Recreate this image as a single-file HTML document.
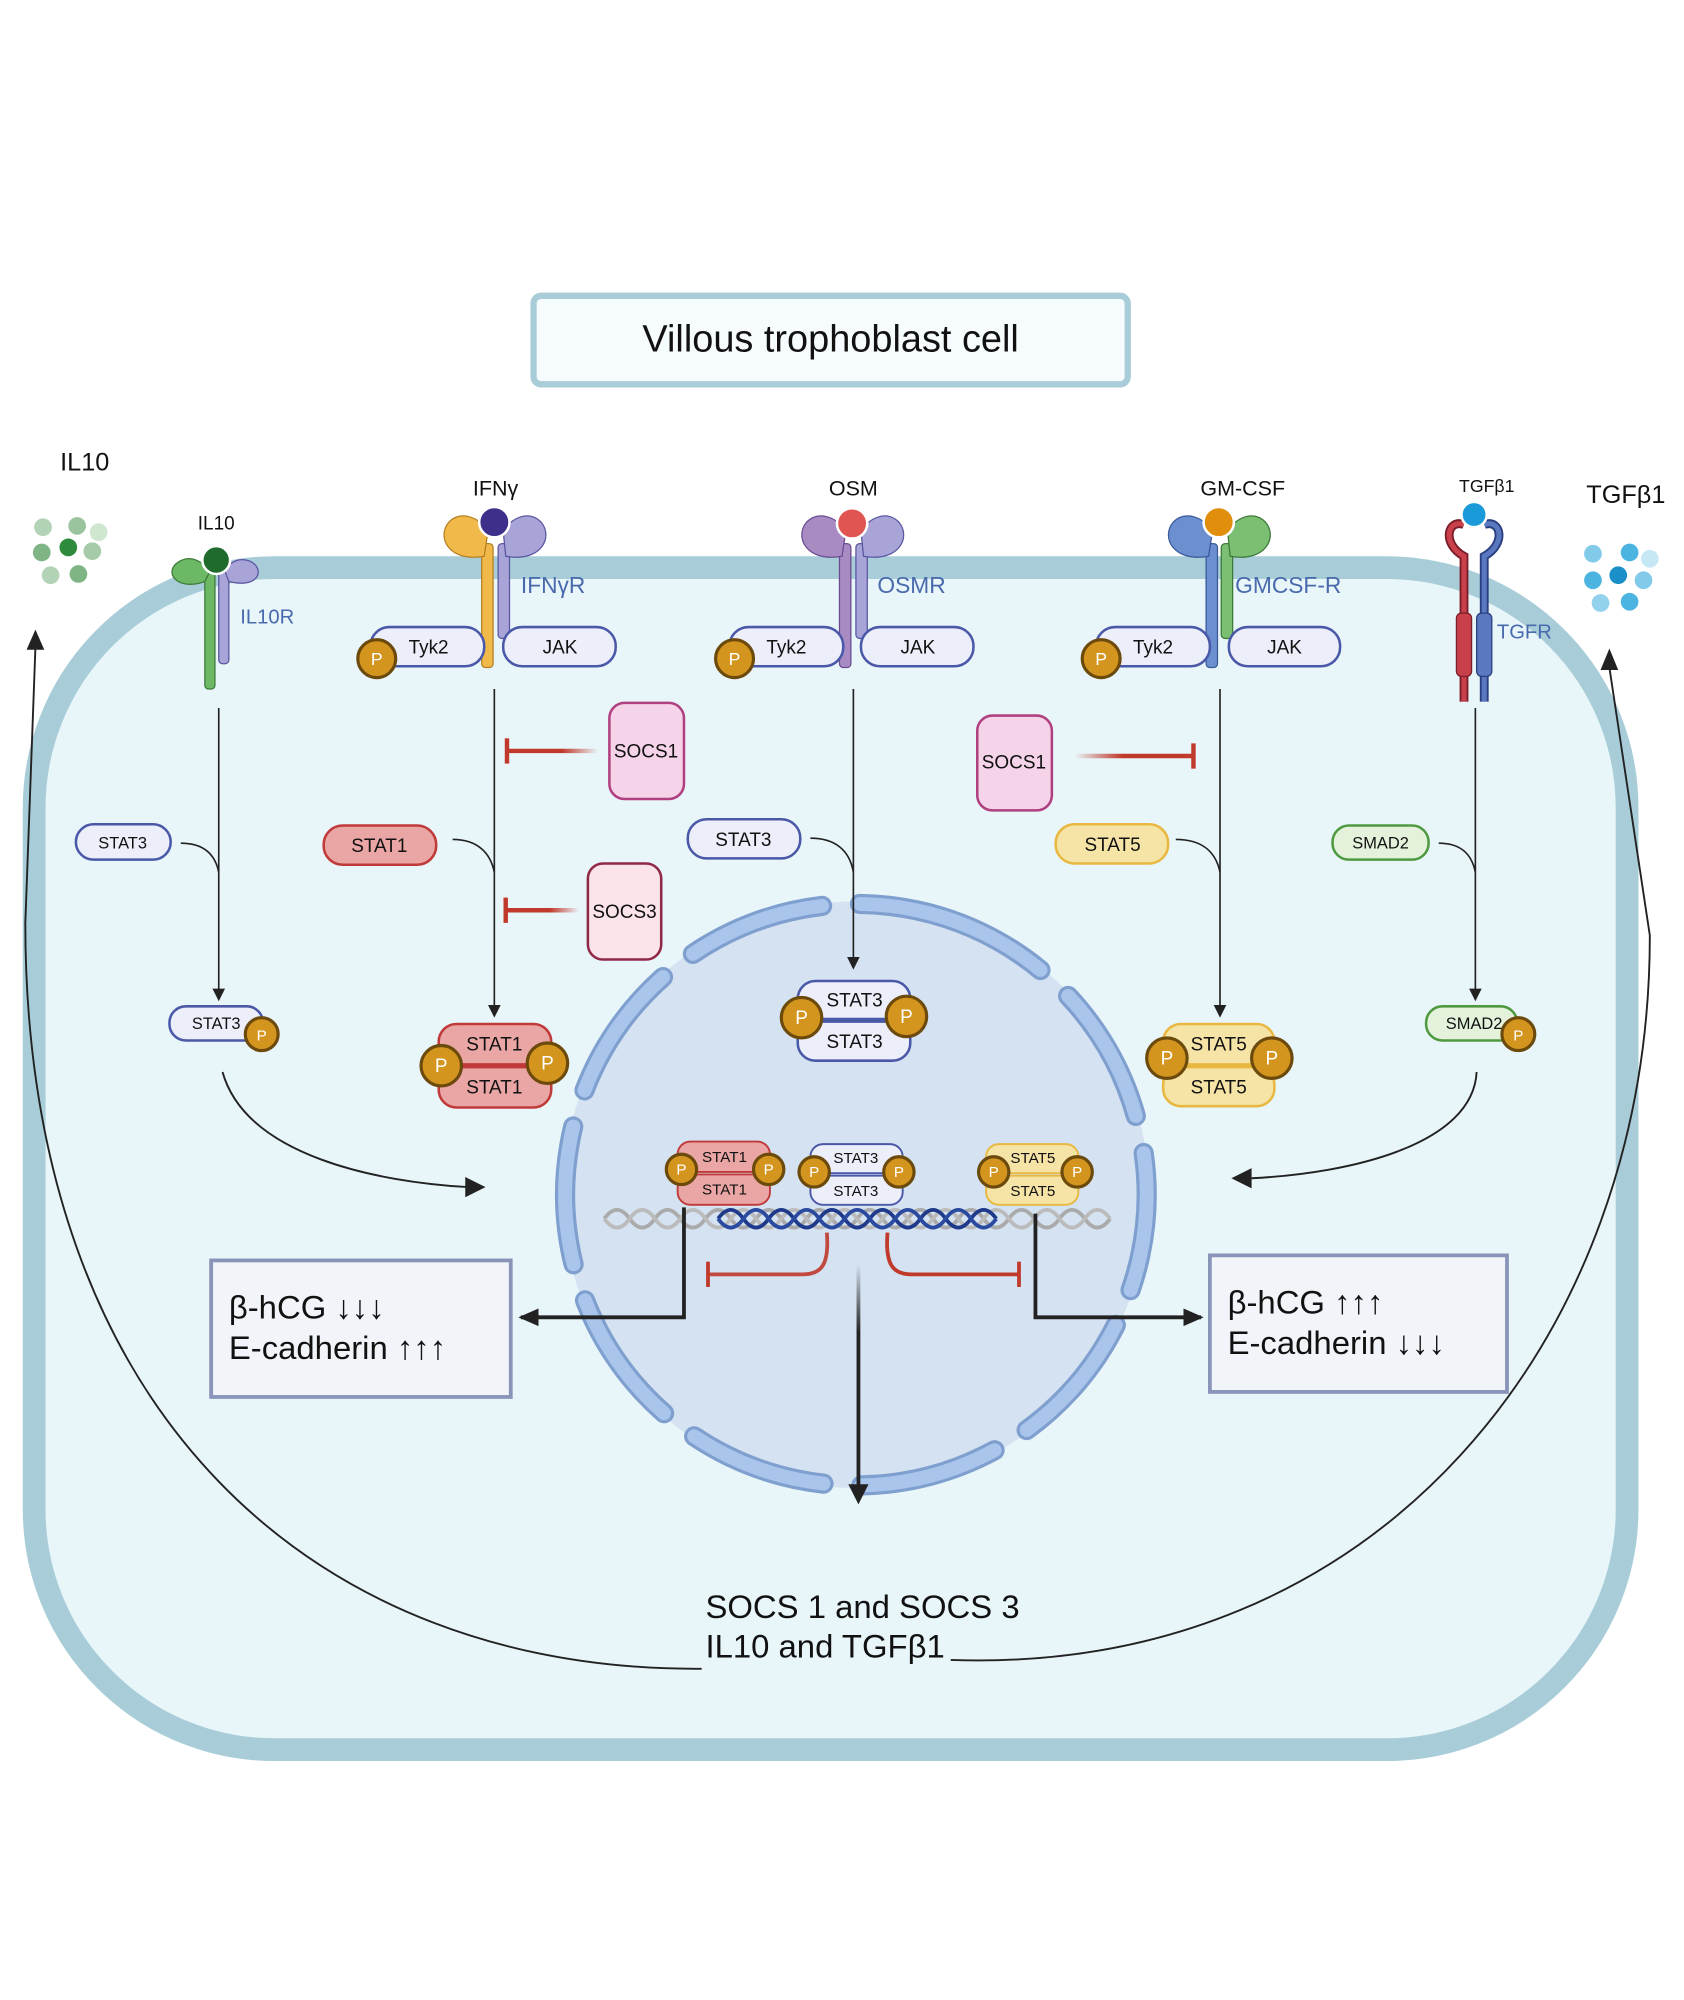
<!DOCTYPE html>
<html><head><meta charset="utf-8"><style>html,body{margin:0;padding:0;background:#fff}svg{display:block}text{font-family:"Liberation Sans",sans-serif}</style></head><body>
<svg width="1684" height="2000" viewBox="0 0 1332 1582" xmlns="http://www.w3.org/2000/svg">
<defs>
<marker id="ah" markerWidth="10" markerHeight="10" refX="8" refY="5" orient="auto" markerUnits="userSpaceOnUse"><path d="M0,0 L10,5 L0,10 z" fill="#222"/></marker>
<marker id="ahs" markerWidth="16" markerHeight="14" refX="14" refY="7" orient="auto" markerUnits="userSpaceOnUse"><path d="M0,0 L16,7 L0,14 z" fill="#222"/></marker>
<linearGradient id="g1" gradientUnits="userSpaceOnUse" x1="401" y1="0" x2="473" y2="0"><stop offset="0" stop-color="#c0392b"/><stop offset="0.6" stop-color="#c0392b"/><stop offset="1" stop-color="#c0392b" stop-opacity="0"/></linearGradient>
<linearGradient id="g2" gradientUnits="userSpaceOnUse" x1="400" y1="0" x2="458" y2="0"><stop offset="0" stop-color="#c0392b"/><stop offset="0.6" stop-color="#c0392b"/><stop offset="1" stop-color="#c0392b" stop-opacity="0"/></linearGradient>
<linearGradient id="g3" gradientUnits="userSpaceOnUse" x1="944" y1="0" x2="850" y2="0"><stop offset="0" stop-color="#c0392b"/><stop offset="0.6" stop-color="#c0392b"/><stop offset="1" stop-color="#c0392b" stop-opacity="0"/></linearGradient>
<linearGradient id="vg" gradientUnits="userSpaceOnUse" x1="0" y1="1000" x2="0" y2="1180"><stop offset="0" stop-color="#222" stop-opacity="0"/><stop offset="0.3" stop-color="#222"/><stop offset="1" stop-color="#222"/></linearGradient>
</defs>
<!-- title -->
<rect x="422" y="234" width="470" height="70" rx="6" fill="#f6fbfd" stroke="#a8cdd8" stroke-width="5"/>
<text x="657" y="278" font-size="30" text-anchor="middle" fill="#111">Villous trophoblast cell</text>
<!-- cell -->
<rect x="27" y="449" width="1260" height="935" rx="190" fill="#e8f5f9" stroke="#a8cdd8" stroke-width="18"/>
<!-- nucleus -->
<circle cx="677" cy="945" r="232" fill="#d4e2f1"/>
<circle cx="677" cy="945" r="230" fill="none" stroke="#7f9fcf" stroke-width="16" stroke-dasharray="110 30" stroke-linecap="round" transform="rotate(-78 677 945)"/>
<circle cx="677" cy="945" r="230" fill="none" stroke="#a9c5ec" stroke-width="11" stroke-dasharray="110 30" stroke-linecap="round" transform="rotate(-78 677 945)"/>
<!-- ligand dots -->
<g fill="#7fb584"><circle cx="34" cy="417" r="7" opacity=".6"/><circle cx="61" cy="416" r="7" opacity=".8"/><circle cx="78" cy="421" r="7" fill="#cfe6cf"/><circle cx="33" cy="437" r="7"/><circle cx="54" cy="433" r="7" fill="#2e8b3e"/><circle cx="73" cy="436" r="7" opacity=".7"/><circle cx="40" cy="455" r="7" opacity=".6"/><circle cx="62" cy="454" r="7"/></g>
<g fill="#4bb4e0"><circle cx="1260" cy="438" r="7" opacity=".7"/><circle cx="1289" cy="437" r="7"/><circle cx="1305" cy="442" r="7" fill="#c6e8f5"/><circle cx="1260" cy="459" r="7"/><circle cx="1280" cy="455" r="7" fill="#1a8fc8"/><circle cx="1300" cy="459" r="7" opacity=".7"/><circle cx="1266" cy="477" r="7" opacity=".6"/><circle cx="1289" cy="476" r="7"/></g>
<g font-size="20" fill="#111" text-anchor="middle"><text x="67" y="372">IL10</text><text x="1286" y="398">TGFβ1</text></g>
<g font-size="17" fill="#111" text-anchor="middle"><text x="392" y="392">IFNγ</text><text x="675" y="392">OSM</text><text x="983" y="392">GM-CSF</text><text x="171" y="419" font-size="15">IL10</text><text x="1176" y="389" font-size="14">TGFβ1</text></g>
<!-- IL10R -->
<rect x="162" y="452" width="8" height="93" rx="3" fill="#6cb865" stroke="#3d7a3a"/>
<rect x="173" y="452" width="8" height="73" rx="3" fill="#a8a4d8" stroke="#5a56a0"/>
<path d="M162,460 C140,468 128,452 142,444 C152,438 162,446 166,452Z" fill="#6cb865" stroke="#3d7a3a"/>
<path d="M181,460 C205,466 210,450 198,444 C188,440 180,446 178,452Z" fill="#a8a4d8" stroke="#5a56a0"/>
<circle cx="171" cy="443" r="11" fill="#1f6b2e" stroke="#fff" stroke-width="2"/>
<text x="190" y="493" font-size="16" fill="#4a6aae">IL10R</text>
<!-- IFNgR -->
<rect x="381" y="430" width="9" height="98" rx="3" fill="#f0b94a" stroke="#b58020"/>
<rect x="394" y="430" width="9" height="75" rx="3" fill="#a8a4d8" stroke="#5a56a0"/>
<path d="M383,440 C355,445 345,425 355,413 C365,403 380,410 386,420Z" fill="#f0b94a" stroke="#b58020"/>
<path d="M400,440 C428,445 438,425 428,413 C418,403 404,410 398,420Z" fill="#a8a4d8" stroke="#5a56a0"/>
<circle cx="391" cy="413" r="12" fill="#3d2f8a" stroke="#fff" stroke-width="2"/>
<text x="412" y="469" font-size="18" fill="#4a6aae">IFNγR</text>
<!-- OSMR -->
<rect x="664" y="430" width="9" height="98" rx="3" fill="#a98bc4" stroke="#6a4c90"/>
<rect x="677" y="430" width="9" height="75" rx="3" fill="#a8a4d8" stroke="#5a56a0"/>
<path d="M666,440 C638,445 628,425 638,413 C648,403 663,410 669,420Z" fill="#a98bc4" stroke="#6a4c90"/>
<path d="M683,440 C711,445 721,425 711,413 C701,403 687,410 681,420Z" fill="#a8a4d8" stroke="#5a56a0"/>
<circle cx="674" cy="414" r="12" fill="#e05552" stroke="#fff" stroke-width="2"/>
<text x="694" y="469" font-size="18" fill="#4a6aae">OSMR</text>
<!-- GMCSF-R -->
<rect x="954" y="430" width="9" height="98" rx="3" fill="#6b8fcf" stroke="#3a5a9a"/>
<rect x="966" y="430" width="9" height="75" rx="3" fill="#7bbf72" stroke="#3d7a3a"/>
<path d="M956,440 C928,445 918,425 928,413 C938,403 953,410 959,420Z" fill="#6b8fcf" stroke="#3a5a9a"/>
<path d="M973,440 C1001,445 1011,425 1001,413 C991,403 977,410 971,420Z" fill="#7bbf72" stroke="#3d7a3a"/>
<circle cx="964" cy="413" r="12" fill="#e08e0b" stroke="#fff" stroke-width="2"/>
<text x="977" y="469" font-size="18" fill="#4a6aae">GMCSF-R</text>
<!-- TGFR -->
<path d="M1158,555 V440 C1140,430 1145,410 1158,415" fill="none" stroke="#7a1f2a" stroke-width="7"/>
<path d="M1158,555 V440 C1140,430 1145,410 1158,415" fill="none" stroke="#c9404a" stroke-width="4"/>
<path d="M1174,555 V440 C1192,430 1187,410 1174,415" fill="none" stroke="#2a3f80" stroke-width="7"/>
<path d="M1174,555 V440 C1192,430 1187,410 1174,415" fill="none" stroke="#5a78c0" stroke-width="4"/>
<rect x="1152" y="485" width="12" height="50" rx="4" fill="#c9404a" stroke="#7a1f2a"/>
<rect x="1168" y="485" width="12" height="50" rx="4" fill="#5a78c0" stroke="#2a3f80"/>
<circle cx="1166" cy="407" r="10" fill="#1a9ad8" stroke="#fff" stroke-width="2"/>
<text x="1184" y="505" font-size="16" fill="#4a6aae">TGFR</text>
<!-- kinases -->
<g font-size="15" fill="#111" text-anchor="middle" stroke-width="2">
<rect x="293" y="496" width="90" height="31" rx="15" fill="#eceef9" stroke="#4a58a8"/><text x="339" y="517">Tyk2</text>
<rect x="398" y="496" width="89" height="31" rx="15" fill="#eceef9" stroke="#4a58a8"/><text x="443" y="517">JAK</text>
<rect x="577" y="496" width="90" height="31" rx="15" fill="#eceef9" stroke="#4a58a8"/><text x="622" y="517">Tyk2</text>
<rect x="681" y="496" width="89" height="31" rx="15" fill="#eceef9" stroke="#4a58a8"/><text x="726" y="517">JAK</text>
<rect x="867" y="496" width="90" height="31" rx="15" fill="#eceef9" stroke="#4a58a8"/><text x="912" y="517">Tyk2</text>
<rect x="972" y="496" width="88" height="31" rx="15" fill="#eceef9" stroke="#4a58a8"/><text x="1016" y="517">JAK</text>
</g>
<!-- vertical arrows -->
<g stroke="#222" stroke-width="1.3" fill="none" marker-end="url(#ah)">
<line x1="173" y1="560" x2="173" y2="790"/><line x1="391" y1="545" x2="391" y2="803"/><line x1="675" y1="545" x2="675" y2="765"/><line x1="965" y1="545" x2="965" y2="803"/><line x1="1167" y1="560" x2="1167" y2="790"/>
</g>
<g stroke="#222" stroke-width="1.3" fill="none">
<path d="M143,667 C160,667 170,675 173,690"/><path d="M358,664 C378,664 388,675 391,690"/><path d="M641,663 C660,663 672,672 675,690"/><path d="M930,664 C952,664 962,675 965,690"/><path d="M1138,667 C1155,667 1164,675 1167,690"/>
</g>
<!-- STAT pills -->
<g font-size="14" fill="#111" text-anchor="middle" stroke-width="2">
<rect x="60" y="652" width="75" height="28" rx="14" fill="#eceef9" stroke="#4a58a8"/><text x="97" y="671" font-size="13">STAT3</text>
<rect x="256" y="653" width="89" height="31" rx="15" fill="#eaa5a5" stroke="#c03a3a"/><text x="300" y="674" font-size="15">STAT1</text>
<rect x="544" y="648" width="89" height="31" rx="15" fill="#eceef9" stroke="#4a58a8"/><text x="588" y="669" font-size="15">STAT3</text>
<rect x="835" y="652" width="89" height="31" rx="15" fill="#f6e3a6" stroke="#e8b840"/><text x="880" y="673" font-size="15">STAT5</text>
<rect x="1054" y="653" width="76" height="27" rx="13" fill="#e4f2dc" stroke="#4f9a40"/><text x="1092" y="671" font-size="13">SMAD2</text>
<rect x="134" y="796" width="74" height="27" rx="13" fill="#eceef9" stroke="#4a58a8"/><text x="171" y="814" font-size="13">STAT3</text>
<rect x="1128" y="796" width="72" height="27" rx="13" fill="#e4f2dc" stroke="#4f9a40"/><text x="1166" y="814" font-size="13">SMAD2</text>
</g>
<!-- P circles -->
<g stroke="#6b4a0c" stroke-width="2.5" fill="#d4951f">
<circle cx="298" cy="521" r="15"/><circle cx="581" cy="521" r="15"/><circle cx="871" cy="521" r="15"/>
<circle cx="207" cy="818" r="13"/><circle cx="1201" cy="818" r="13"/>
</g>
<g font-size="14" fill="#fff" text-anchor="middle"><text x="298" y="526">P</text><text x="581" y="526">P</text><text x="871" y="526">P</text><text x="207" y="823" font-size="12">P</text><text x="1201" y="823" font-size="12">P</text></g>
<!-- SOCS -->
<g font-size="15" fill="#111" text-anchor="middle" stroke-width="2">
<rect x="482" y="556" width="59" height="76" rx="12" fill="#f5d3e8" stroke="#b04080"/><text x="511" y="599">SOCS1</text>
<rect x="465" y="683" width="58" height="76" rx="12" fill="#fbe3ea" stroke="#902848"/><text x="494" y="726">SOCS3</text>
<rect x="773" y="566" width="59" height="75" rx="12" fill="#f5d3e8" stroke="#b04080"/><text x="802" y="608">SOCS1</text>
</g>
<g stroke-width="3.5" fill="none">
<line x1="401" y1="594" x2="473" y2="594" stroke="url(#g1)"/><line x1="401" y1="584" x2="401" y2="604" stroke="#c0392b"/>
<line x1="400" y1="720" x2="458" y2="720" stroke="url(#g2)"/><line x1="400" y1="710" x2="400" y2="730" stroke="#c0392b"/>
<line x1="850" y1="598" x2="944" y2="598" stroke="url(#g3)"/><line x1="944" y1="588" x2="944" y2="608" stroke="#c0392b"/>
</g>
<!-- dimers -->
<g stroke-width="2" font-size="15" fill="#111" text-anchor="middle">
<rect x="347" y="810" width="89" height="32" rx="14" fill="#eaa5a5" stroke="#c03a3a"/><rect x="347" y="844" width="89" height="32" rx="14" fill="#eaa5a5" stroke="#c03a3a"/><line x1="355" y1="843" x2="430" y2="843" stroke="#c03a3a" stroke-width="4"/>
<text x="391" y="831">STAT1</text><text x="391" y="865">STAT1</text>
<rect x="631" y="776" width="89" height="31" rx="14" fill="#eceef9" stroke="#4a58a8"/><rect x="631" y="808" width="89" height="31" rx="14" fill="#eceef9" stroke="#4a58a8"/><line x1="640" y1="807" x2="712" y2="807" stroke="#4a58a8" stroke-width="4"/>
<text x="676" y="796">STAT3</text><text x="676" y="829">STAT3</text>
<rect x="920" y="810" width="88" height="32" rx="14" fill="#f6e3a6" stroke="#e8b840"/><rect x="920" y="844" width="88" height="31" rx="14" fill="#f6e3a6" stroke="#e8b840"/><line x1="928" y1="843" x2="1000" y2="843" stroke="#e8b840" stroke-width="4"/>
<text x="964" y="831">STAT5</text><text x="964" y="865">STAT5</text>
</g>
<g font-size="12" fill="#111" text-anchor="middle" stroke-width="1.5">
<rect x="536" y="903" width="73" height="24" rx="10" fill="#eaa5a5" stroke="#c03a3a"/><rect x="536" y="929" width="73" height="24" rx="10" fill="#eaa5a5" stroke="#c03a3a"/><text x="573" y="919">STAT1</text><text x="573" y="945">STAT1</text>
<rect x="641" y="905" width="73" height="23" rx="10" fill="#eceef9" stroke="#4a58a8"/><rect x="641" y="930" width="73" height="23" rx="10" fill="#eceef9" stroke="#4a58a8"/><text x="677" y="920">STAT3</text><text x="677" y="946">STAT3</text>
<rect x="780" y="905" width="73" height="23" rx="10" fill="#f6e3a6" stroke="#e8b840"/><rect x="780" y="930" width="73" height="23" rx="10" fill="#f6e3a6" stroke="#e8b840"/><text x="817" y="920">STAT5</text><text x="817" y="946">STAT5</text>
</g>
<g stroke="#6b4a0c" stroke-width="2.5" fill="#d4951f">
<circle cx="349" cy="843" r="16"/><circle cx="433" cy="841" r="16"/><circle cx="634" cy="805" r="16"/><circle cx="717" cy="804" r="16"/><circle cx="923" cy="837" r="16"/><circle cx="1006" cy="837" r="16"/>
<circle cx="539" cy="925" r="12"/><circle cx="608" cy="925" r="12"/><circle cx="644" cy="927" r="12"/><circle cx="711" cy="927" r="12"/><circle cx="786" cy="927" r="12"/><circle cx="852" cy="927" r="12"/>
</g>
<g font-size="15" fill="#fff" text-anchor="middle"><text x="349" y="848">P</text><text x="433" y="846">P</text><text x="634" y="810">P</text><text x="717" y="809">P</text><text x="923" y="842">P</text><text x="1006" y="842">P</text>
<g font-size="12"><text x="539" y="929">P</text><text x="608" y="929">P</text><text x="644" y="931">P</text><text x="711" y="931">P</text><text x="786" y="931">P</text><text x="852" y="931">P</text></g></g>
<!-- DNA -->
<g fill="none" stroke-width="3">
<path d="M478,964 q10,-14 20,0 t20,0 t20,0 t20,0 t20,0 t20,0 t20,0 t20,0 t20,0 t20,0 t20,0 t20,0 t20,0 t20,0 t20,0 t20,0 t20,0 t20,0 t20,0 t20,0" stroke="#aaa"/>
<path d="M478,964 q10,14 20,0 t20,0 t20,0 t20,0 t20,0 t20,0 t20,0 t20,0 t20,0 t20,0 t20,0 t20,0 t20,0 t20,0 t20,0 t20,0 t20,0 t20,0 t20,0 t20,0" stroke="#bbb"/>
<path d="M568,964 q10,-14 20,0 t20,0 t20,0 t20,0 t20,0 t20,0 t20,0 t20,0 t20,0 t20,0 t20,0" stroke="#1f3a8a"/>
<path d="M568,964 q10,14 20,0 t20,0 t20,0 t20,0 t20,0 t20,0 t20,0 t20,0 t20,0 t20,0 t20,0" stroke="#2a4aa0"/>
</g>
<!-- red inhibition in nucleus -->
<g fill="none" stroke="#c0392b" stroke-width="3">
<path d="M654,975 C656,1000 650,1008 635,1008 L560,1008" stroke-opacity=".9"/><line x1="560" y1="998" x2="560" y2="1018"/>
<path d="M702,975 C700,1000 706,1008 721,1008 L806,1008"/><line x1="806" y1="998" x2="806" y2="1018"/>
</g>
<!-- outputs -->
<g fill="none" stroke="#222" stroke-width="3">
<path d="M541,955 V1042 H412" marker-end="url(#ahs)"/>
<path d="M819,960 V1042 H950" marker-end="url(#ahs)"/>
</g>
<rect x="677.5" y="1000" width="3" height="176" fill="url(#vg)"/>
<path d="M671,1174 L679,1190 L687,1174 z" fill="#222"/>
<rect x="167" y="997" width="237" height="108" fill="#f1f5fa" stroke="#8a94b8" stroke-width="3"/>
<text x="181" y="1043" font-size="26" fill="#111">β-hCG ↓↓↓</text><text x="181" y="1075" font-size="26" fill="#111">E-cadherin ↑↑↑</text>
<rect x="957" y="993" width="235" height="108" fill="#f1f5fa" stroke="#8a94b8" stroke-width="3"/>
<text x="971" y="1039" font-size="26" fill="#111">β-hCG ↑↑↑</text><text x="971" y="1071" font-size="26" fill="#111">E-cadherin ↓↓↓</text>
<!-- curved arrows to nucleus -->
<g fill="none" stroke="#222" stroke-width="1.5">
<path d="M176,848 C195,915 300,935 370,939"/><path d="M1168,848 C1165,905 1070,928 990,932"/>
</g>
<path d="M368,931 L384,939 L368,947z" fill="#222"/><path d="M990,924 L974,932 L990,940z" fill="#222"/>
<text x="558" y="1280" font-size="26" fill="#111">SOCS 1 and SOCS 3</text>
<text x="558" y="1311" font-size="26" fill="#111">IL10 and TGFβ1</text>
<g fill="none" stroke="#222" stroke-width="1.5">
<path d="M555,1320 C250,1322 20,1120 20,730 L28,512"/>
<path d="M752,1313 C1090,1325 1305,1060 1305,740 L1273,528"/>
</g>
<path d="M21,514 L28,498 L35,514z" fill="#222"/><path d="M1266,530 L1273,513 L1280,530z" fill="#222"/>
</svg>
</body></html>
